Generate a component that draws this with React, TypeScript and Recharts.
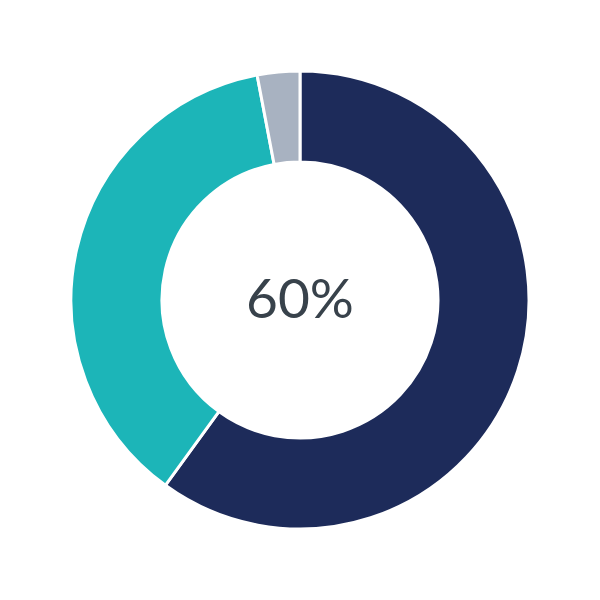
import React from "react";
import { PieChart, Pie, Cell } from "recharts";

const labels = ["Primary", "Secondary", "Other"];
const values = [60, 37, 3];
const colors = ["#1d2b5a", "#1cb5b8", "#a8b2c1"];
const centerLabel = "60%";

const data = labels.map((name, i) => ({ name, value: values[i] }));

const App = () => {
  return (
    <div style={{ position: "absolute", top: 0, left: 0, width: 600, height: 600, background: "#fff" }}>
      <PieChart width={600} height={600} margin={{ top: 0, right: 0, bottom: 0, left: 0 }}>
        <Pie
          data={data}
          dataKey="value"
          nameKey="name"
          cx={300}
          cy={300}
          innerRadius={138}
          outerRadius={229}
          startAngle={90}
          endAngle={-270}
          stroke="#ffffff"
          strokeWidth={3}
          isAnimationActive={false}
        >
          {data.map((d, i) => (
            <Cell key={d.name} fill={colors[i]} />
          ))}
        </Pie>
        <text
          x={300}
          y={297}
          textAnchor="middle"
          dominantBaseline="central"
          fontFamily="Lato, 'Open Sans', sans-serif"
          fontWeight={400}
          fontSize={55}
          fill="#38424b"
        >
          {centerLabel}
        </text>
      </PieChart>
    </div>
  );
};

export default App;
